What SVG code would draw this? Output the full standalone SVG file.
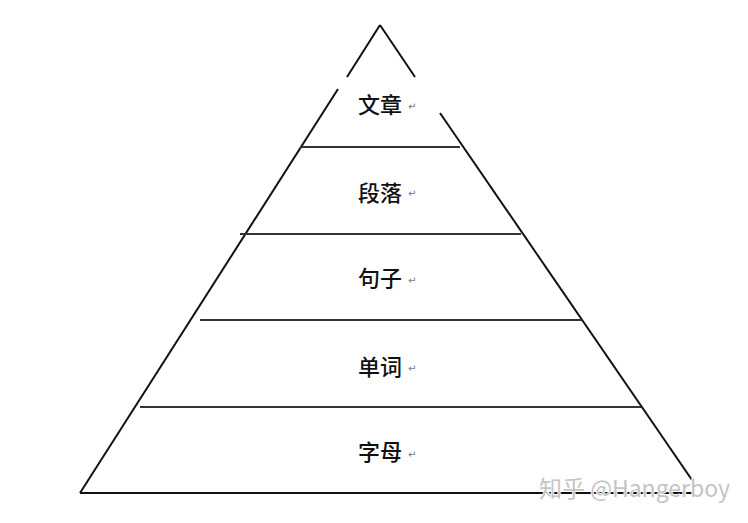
<svg xmlns="http://www.w3.org/2000/svg" width="748" height="523" viewBox="0 0 748 523">
<style>
.edge{stroke:#111;stroke-width:2;fill:none;stroke-linecap:butt}
.sep{stroke:#333;stroke-width:2.2;fill:none}
.lbl{font-family:"Noto Sans CJK SC",serif;font-size:22px;font-weight:500;fill:#111;text-anchor:middle;dominant-baseline:central}
.ret{font-family:"DejaVu Sans",sans-serif;font-size:10px;fill:#777}
.wm{font-family:"Noto Sans CJK SC","Liberation Sans",sans-serif;font-size:23px;fill:#c4c4c4;stroke:#ffffff;stroke-width:1.5;paint-order:stroke}
</style>
<rect width="748" height="523" fill="#ffffff"/>
<g id="connectors">
<line class="edge" x1="380" y1="25" x2="347" y2="77"/>
<line class="edge" x1="338" y1="89" x2="80" y2="493"/>
<line class="edge" x1="380" y1="25" x2="415" y2="77"/>
<line class="edge" x1="440" y1="113" x2="692" y2="480"/>
<line class="sep" x1="300" y1="147" x2="460" y2="147"/>
<line class="sep" x1="240" y1="234" x2="521" y2="234"/>
<line class="sep" x1="200" y1="320" x2="582" y2="320"/>
<line class="sep" x1="140" y1="407" x2="641" y2="407"/>
<line class="edge" x1="80" y1="493" x2="693" y2="493"/>
</g>
<g id="node-wenzhang"><text class="lbl" x="380" y="103">文章</text><text class="ret" x="408" y="110">↵</text></g>
<g id="node-duanluo"><text class="lbl" x="380" y="191">段落</text><text class="ret" x="408" y="197">↵</text></g>
<g id="node-juzi"><text class="lbl" x="380" y="276">句子</text><text class="ret" x="408" y="284">↵</text></g>
<g id="node-danci"><text class="lbl" x="380" y="365">单词</text><text class="ret" x="408" y="372">↵</text></g>
<g id="node-zimu"><text class="lbl" x="380" y="450">字母</text><text class="ret" x="408" y="458">↵</text></g>
<text class="wm" x="539" y="497">知乎 @Hangerboy</text>
</svg>
